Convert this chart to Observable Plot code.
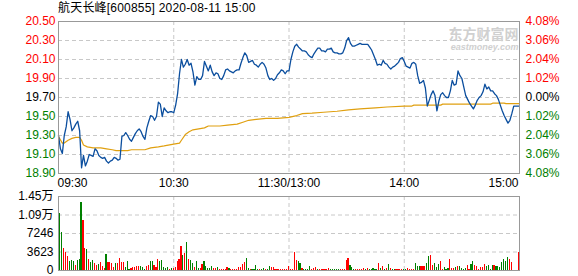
<!DOCTYPE html>
<html><head><meta charset="utf-8">
<script src="https://cdn.jsdelivr.net/npm/d3@7"></script>
<script src="https://cdn.jsdelivr.net/npm/@observablehq/plot@0.6"></script>
<style>
body{margin:0;background:#fff;}
#wrap{position:relative;width:578px;height:276px;font-family:"Liberation Sans",Arial,sans-serif;overflow:hidden;}
#title{position:absolute;left:58px;top:1px;font-size:12px;line-height:14px;color:#000;white-space:pre;font-family:"Liberation Sans","Noto Sans CJK SC",sans-serif;letter-spacing:0.2px;}
#price{position:absolute;left:0;top:0;}
#vol{position:absolute;left:0;top:190px;}
</style></head><body>
<div id="wrap"><div id="price"></div><div id="vol"></div><div id="title">航天长峰[600855] 2020-08-11 15:00</div></div>
<script>
// ---- data ----
const prevClose = 19.70;
const priceTicks = [18.90, 19.10, 19.30, 19.50, 19.70, 19.90, 20.10, 20.30, 20.50];
const pctLabels = ["4.08%", "3.06%", "2.04%", "1.02%", "0.00%", "1.02%", "2.04%", "3.06%", "4.08%"];
const timeTicks = [0, 60, 120, 180, 240];
const timeLabels = ["09:30", "10:30", "11:30/13:00", "14:00", "15:00"];
const volTicks = [0, 3623, 7246, 10869, 14492];
const volTickLabels = ["0", "3623", "7246", "1.09万", "1.45万"];
const watermark = ["东方财富网", "eastmoney.com"];

// minute-by-minute price, minute 0 = 09:30 ... 240 = 15:00
const prices = [
  19.30, 19.16, 19.11, 19.30, 19.39, 19.55, 19.47, 19.35, 19.38, 19.42,
  19.45, 19.35, 18.96, 19.09, 18.98, 19.03, 19.10, 19.09, 19.08, 19.16,
  19.14, 19.09, 19.07, 19.06, 19.07, 19.03, 19.01, 19.03, 19.04, 19.07,
  19.06, 19.04, 19.05, 19.29, 19.30, 19.33, 19.30, 19.26, 19.24, 19.28,
  19.32, 19.35, 19.37, 19.34, 19.29, 19.26, 19.38, 19.45, 19.51, 19.50,
  19.46, 19.50, 19.65, 19.63, 19.50, 19.59, 19.56, 19.54, 19.55, 19.55,
  19.54, 19.62, 19.74, 19.95, 20.10, 20.02, 20.05, 20.10, 20.04, 20.06,
  19.97, 19.83, 19.92, 19.89, 19.89, 19.93, 20.08, 20.03, 19.98, 20.04,
  19.97, 19.93, 19.96, 19.95, 19.90, 19.89, 19.93, 19.99, 20.00, 19.98,
  19.97, 19.96, 19.98, 19.99, 19.99, 20.06, 20.12, 20.17, 20.14, 20.07,
  20.08, 20.09, 20.05, 20.04, 20.02, 20.05, 20.07, 20.05, 20.01, 19.93,
  19.89, 19.90, 19.88, 19.90, 19.94, 19.96, 19.99, 19.98, 19.95, 19.98,
  19.98, 20.10, 20.18, 20.24, 20.26, 20.23, 20.21, 20.19, 20.19, 20.18,
  20.15, 20.13, 20.12, 20.16, 20.19, 20.22, 20.22, 20.19, 20.19, 20.18,
  20.21, 20.21, 20.22, 20.18, 20.17, 20.17, 20.16, 20.16, 20.17, 20.22,
  20.30, 20.33, 20.27, 20.24, 20.24, 20.25, 20.26, 20.27, 20.26, 20.26,
  20.26, 20.26, 20.23, 20.20, 20.15, 20.10, 20.04, 20.05, 20.04, 20.09,
  20.06, 20.05, 20.02, 20.00, 20.02, 20.03, 20.05, 20.07, 20.11, 20.12,
  20.08, 20.03, 20.02, 20.01, 20.06, 20.07, 20.05, 19.93, 19.85, 19.86,
  19.88, 19.80, 19.61, 19.67, 19.73, 19.77, 19.72, 19.56, 19.66, 19.73,
  19.75, 19.72, 19.70, 19.70, 19.77, 19.88, 19.83, 19.84, 19.98, 19.93,
  19.90, 19.81, 19.72, 19.68, 19.64, 19.61, 19.58, 19.62, 19.67, 19.70,
  19.72, 19.76, 19.84, 19.79, 19.81, 19.77, 19.77, 19.74, 19.72, 19.68,
  19.62, 19.56, 19.51, 19.47, 19.43, 19.46, 19.53, 19.61, 19.61, 19.61,
  19.61
];

// average price line, read at its break points
const avgMinutes = [0, 2, 3, 5, 7, 9, 11, 12, 13, 15, 18, 22, 25, 28, 30, 36, 38, 45, 48, 52, 55, 60, 63, 64, 66, 68, 70, 73, 76, 78, 84, 88, 93, 96, 99, 103, 108, 114, 120, 124, 127, 132, 138, 145, 151, 157, 165, 171, 180, 184, 185, 199, 200, 225, 226, 232, 233, 240];
const avgPrices = [19.29, 19.22, 19.22, 19.25, 19.27, 19.28, 19.28, 19.25, 19.20, 19.18, 19.17, 19.17, 19.16, 19.15, 19.14, 19.14, 19.15, 19.15, 19.17, 19.18, 19.19, 19.21, 19.22, 19.25, 19.31, 19.34, 19.36, 19.37, 19.38, 19.40, 19.40, 19.41, 19.42, 19.44, 19.46, 19.47, 19.48, 19.48, 19.49, 19.51, 19.53, 19.535, 19.545, 19.555, 19.57, 19.58, 19.59, 19.60, 19.61, 19.61, 19.62, 19.62, 19.63, 19.63, 19.64, 19.64, 19.635, 19.635];

// volume per minute, minute 1 ... 240
const volumes = [
  11230, 7444, 4375, 3590, 2808, 1763, 1959, 1828, 980, 1959,
  2155, 13387, 9795, 4310, 4180, 2220, 1633, 1959, 1306, 980,
  1110, 1633, 849, 400, 3134, 1633, 1633, 1437, 653, 1306,
  1437, 2286, 1633, 1633, 522, 1763, 261, 457, 522, 653,
  718, 718, 718, 522, 196, 784, 914, 1763, 1763, 980,
  653, 2155, 1763, 1959, 653, 300, 522, 196, 392, 327,
  522, 1828, 2090, 4702, 2939, 3265, 5551, 2220, 1959, 1437,
  500, 1763, 400, 327, 1175, 1763, 784, 457, 457, 784,
  392, 392, 588, 196, 196, 196, 196, 588, 457, 196,
  196, 196, 196, 588, 588, 1175, 1567, 2351, 392, 261,
  261, 196, 980, 196, 196, 196, 327, 196, 196, 784,
  588, 588, 196, 196, 196, 196, 196, 196, 196, 718,
  196, 196, 3526, 1959, 1763, 1437, 327, 196, 196, 196,
  784, 196, 392, 588, 196, 196, 196, 196, 196, 196,
  392, 196, 196, 196, 196, 196, 196, 196, 196, 2024,
  2351, 914, 522, 196, 196, 196, 196, 196, 392, 196,
  392, 196, 196, 327, 196, 196, 1371, 392, 784, 261,
  392, 1175, 392, 196, 196, 196, 196, 196, 196, 196,
  196, 392, 196, 196, 196, 1371, 784, 784, 784, 784,
  784, 1371, 2743, 2939, 980, 1371, 588, 1175, 1763, 196,
  588, 196, 392, 2155, 392, 392, 522, 718, 784, 392,
  196, 392, 980, 196, 1175, 1763, 980, 784, 196, 588,
  588, 1175, 784, 980, 196, 980, 980, 784, 784, 588,
  1567, 2155, 1763, 2547, 2155, 1567, 0, 0, 0, 3526
];
// r = up minute (red), g = down minute (green)
const volDirs = (
  "ggrrrgggrg" + "ggrrgrggrr" + "grrrgrrrrg" + "rrrrgggrrr" + "rrgggrrggr" + "rrgggggrgr" +
  "rrrrgrgrgg" + "rggrrggggg" + "rrgrrrrrgr" + "rrrrrrrggr" + "ggggrggrgg" + "rrrrrrrrrr" +
  "rrrrggrggg" + "grrrgrrrrr" + "rgggggrrrr" + "rgggrrrrrg" + "rgggggrgrg" + "rgrggrrrrg" +
  "grrrrgggrr" + "rggrrgggrr" + "gggrrrgrgg" + "ggrrggrrrr" + "rrggggrggg" + "ggggrrrrrr"
).split("");

// ---- colours ----
const RED = "#ff0000", GREEN = "#008000", BLACK = "#000000";
const labelColor = v => v > prevClose + 1e-9 ? RED : v < prevClose - 1e-9 ? GREEN : BLACK;
const gridStyle = {stroke: "#c8c8c8", strokeDasharray: "4,3", strokeWidth: 1};
const font = {fontFamily: "Liberation Sans, Arial, sans-serif", fontSize: "12px", background: "transparent", overflow: "visible"};

const priceData = prices.map((p, i) => ({t: i, p}));
const avgData = avgMinutes.map((t, i) => ({t, p: avgPrices[i]}));
const volData = volumes.map((v, i) => ({t: i + 1, v, d: volDirs[i]}));

const pricePlot = Plot.plot({
  width: 578, height: 190,
  marginLeft: 58, marginRight: 59, marginTop: 21, marginBottom: 17,
  style: font,
  x: {domain: [0, 240], axis: null},
  y: {domain: [18.9, 20.5], axis: null},
  marks: [
    Plot.ruleY(priceTicks.slice(1, -1), {y: d => d, ...gridStyle}),
    Plot.ruleX(timeTicks.slice(1, -1), {x: d => d, ...gridStyle}),
    Plot.text([watermark[0]], {frameAnchor: "top-right", textAnchor: "end", dx: -1, dy: 8, text: d => d, fill: "#d0d0d0", fontSize: 14, fontWeight: "bold", fontFamily: "Noto Sans CJK SC"}),
    Plot.text([watermark[1]], {frameAnchor: "top-right", textAnchor: "end", dx: -1, dy: 22, text: d => d, fill: "#d0d0d0", fontSize: 9, fontWeight: "bold", fontStyle: "italic"}),
    Plot.line(avgData, {x: "t", y: "p", stroke: "#e0a010", strokeWidth: 1.2}),
    Plot.line(priceData, {x: "t", y: "p", stroke: "#0b4e9e", strokeWidth: 1.3}),
    Plot.frame({stroke: "#999999"}),
    Plot.text(priceTicks, {y: d => d, text: d => d.toFixed(2), frameAnchor: "left", textAnchor: "end", dx: -3, fill: d => labelColor(d), fontSize: 12}),
    Plot.text(priceTicks, {y: d => d, text: (d, i) => pctLabels[i], frameAnchor: "right", textAnchor: "start", dx: 6, fill: d => labelColor(d), fontSize: 12}),
    Plot.text([timeTicks[0]], {x: d => d, text: () => timeLabels[0], frameAnchor: "bottom", lineAnchor: "top", textAnchor: "start", dy: 5, dx: -1, fill: BLACK, fontSize: 12}),
    Plot.text(timeTicks.slice(1, -1), {x: d => d, text: (d, i) => timeLabels[i + 1], frameAnchor: "bottom", lineAnchor: "top", textAnchor: "middle", dy: 5, fill: BLACK, fontSize: 12}),
    Plot.text([timeTicks[4]], {x: d => d, text: () => timeLabels[4], frameAnchor: "bottom", lineAnchor: "top", textAnchor: "end", dy: 5, dx: -1, fill: BLACK, fontSize: 12})
  ]
});
document.getElementById("price").appendChild(pricePlot);

const volPlot = Plot.plot({
  width: 578, height: 86,
  marginLeft: 58, marginRight: 59, marginTop: 6, marginBottom: 6,
  style: font,
  x: {domain: [0, 240], axis: null},
  y: {domain: [0, 14492], axis: null},
  marks: [
    Plot.ruleY(volTicks.slice(1, -1), {y: d => d, ...gridStyle}),
    Plot.ruleX(timeTicks.slice(1, -1), {x: d => d, ...gridStyle}),
    Plot.rectY(volData, {x1: d => d.t - 0.3, x2: d => d.t + 0.3, y1: 0, y2: "v", fill: d => d.d === "r" ? RED : GREEN, shapeRendering: "crispEdges"}),
    Plot.frame({stroke: "#999999"}),
    Plot.text(volTicks, {y: d => d, text: (d, i) => volTickLabels[i], frameAnchor: "left", textAnchor: "end", dx: -5, fill: BLACK, fontSize: 12, fontFamily: "Liberation Sans, Noto Sans CJK SC, sans-serif"})
  ]
});
document.getElementById("vol").appendChild(volPlot);
</script>
</body></html>
